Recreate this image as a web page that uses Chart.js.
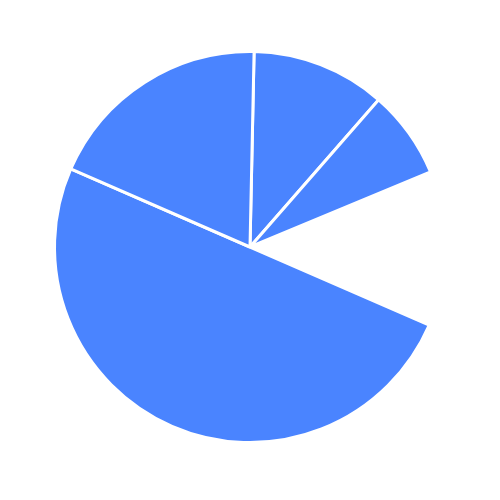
<!DOCTYPE html>
<html><head><script src="https://cdn.jsdelivr.net/npm/chart.js@4"></script>
<style>html,body{margin:0;background:#fff}#w{width:500px;height:500px}</style></head>
<body><div id="w"><canvas id="c"></canvas></div>
<script>
const categories = ["A","B","Gap","C","D"];
const values = [11.1, 7.3, 12.8, 50.0, 18.8];
const colors = ["#4a84ff","#4a84ff","rgba(0,0,0,0)","#4a84ff","#4a84ff"];
new Chart(document.getElementById('c'), {
  type: 'pie',
  data: { labels: categories, datasets: [{ data: values, backgroundColor: colors,
    borderColor: ["#fff","#fff","rgba(0,0,0,0)","#fff","#fff"], borderWidth: 3 }] },
  options: { responsive: true, maintainAspectRatio: false, animation: false, rotation: 1.2,
    layout: { padding: { top: 50, bottom: 56 } },
    plugins: { legend: { display: false }, tooltip: { enabled: false } } }
});
</script></body></html>
